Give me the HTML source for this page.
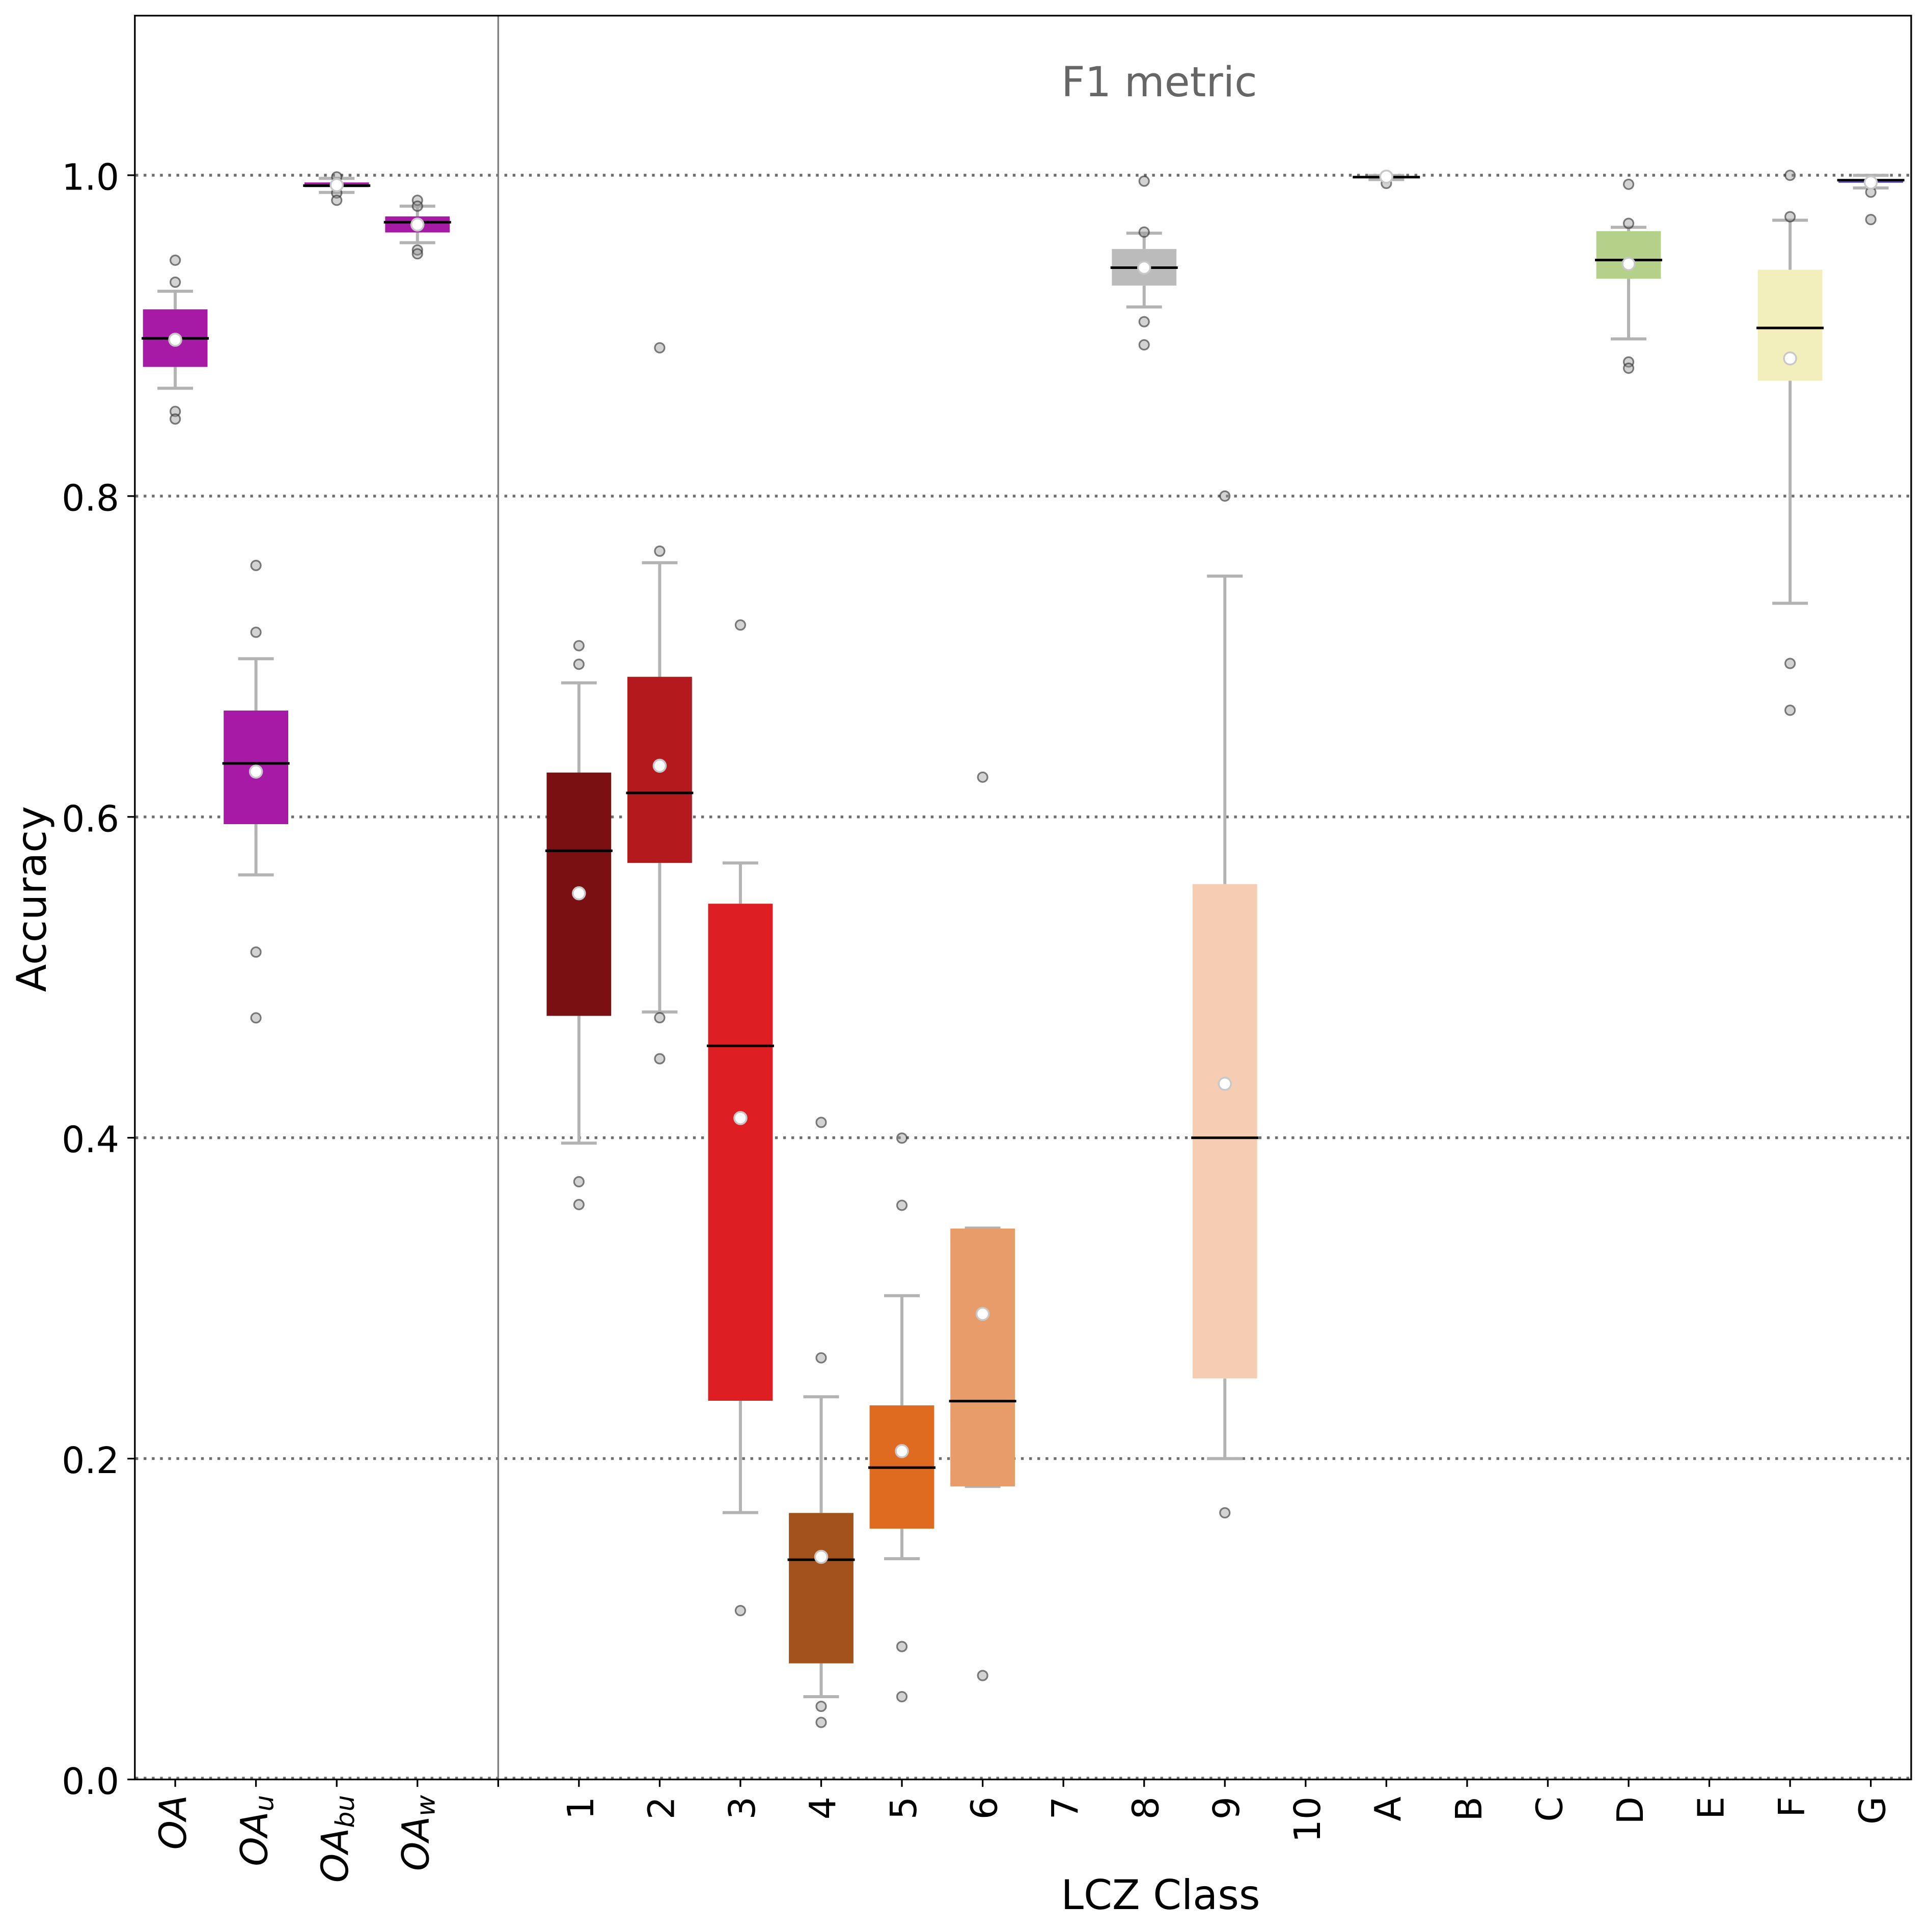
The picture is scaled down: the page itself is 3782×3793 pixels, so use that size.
<!DOCTYPE html>
<html>
<head>
<meta charset="utf-8">
<style>
html,body{margin:0;padding:0;background:#fff;}
svg{display:block;}
text{font-family:"DejaVu Sans","Liberation Sans",sans-serif;}
.w{stroke:#b3b3b3;stroke-width:6;fill:none;}
.md{stroke:#000;stroke-width:5;}
.o{fill:rgba(150,150,150,0.42);stroke:rgba(50,50,50,0.62);stroke-width:3.2;}
.mn{fill:#fff;stroke:#c8c8c8;stroke-width:3.5;}
.g{stroke:#6e6e6e;stroke-width:5.4;stroke-dasharray:5.4 10.7;fill:none;}
.tk{stroke:#000;stroke-width:3.3;}
.yl{font-size:71px;fill:#000;text-anchor:end;}
.xl{font-size:71px;fill:#000;text-anchor:end;}
.xm{font-size:73px;fill:#000;text-anchor:end;font-style:italic;}
</style>
</head>
<body>
<svg xmlns="http://www.w3.org/2000/svg" width="3782" height="3793" viewBox="0 0 3782 3793">
<rect x="0" y="0" width="3782" height="3793" fill="#fff"/>

<!-- grid -->
<line class="g" x1="266" y1="344" x2="3752" y2="344"/>
<line class="g" x1="266" y1="973.9" x2="3752" y2="973.9"/>
<line class="g" x1="266" y1="1603.8" x2="3752" y2="1603.8"/>
<line class="g" x1="266" y1="2233.7" x2="3752" y2="2233.7"/>
<line class="g" x1="266" y1="2863.6" x2="3752" y2="2863.6"/>
<line class="g" x1="266" y1="3491" x2="3752" y2="3491"/>

<!-- separator -->
<line x1="978.3" y1="30.7" x2="978.3" y2="3493.5" stroke="#808080" stroke-width="3.3"/>

<!-- OA -->
<line class="w" x1="344.1" y1="571.8" x2="344.1" y2="607.3"/>
<line class="w" x1="344.1" y1="720.4" x2="344.1" y2="762.3"/>
<line class="w" x1="309.1" y1="571.8" x2="379.1" y2="571.8"/>
<line class="w" x1="309.1" y1="762.3" x2="379.1" y2="762.3"/>
<rect x="280.7" y="607.3" width="126.8" height="113.1" fill="#a61aa6"/>
<line class="md" x1="278.1" y1="664.2" x2="410.1" y2="664.2"/>
<circle class="o" cx="344.1" cy="510.9" r="9.5"/>
<circle class="o" cx="344.1" cy="554" r="9.5"/>
<circle class="o" cx="344.1" cy="807.7" r="9.5"/>
<circle class="o" cx="344.1" cy="822.6" r="9.5"/>
<circle class="mn" cx="344.1" cy="667" r="12"/>

<!-- OAu -->
<line class="w" x1="502.6" y1="1293.2" x2="502.6" y2="1395"/>
<line class="w" x1="502.6" y1="1618" x2="502.6" y2="1717.6"/>
<line class="w" x1="467.6" y1="1293.2" x2="537.6" y2="1293.2"/>
<line class="w" x1="467.6" y1="1717.6" x2="537.6" y2="1717.6"/>
<rect x="439.2" y="1395" width="126.8" height="223" fill="#a61aa6"/>
<line class="md" x1="436.6" y1="1498.8" x2="568.6" y2="1498.8"/>
<circle class="o" cx="502.6" cy="1110.1" r="9.5"/>
<circle class="o" cx="502.6" cy="1241.3" r="9.5"/>
<circle class="o" cx="502.6" cy="1869.2" r="9.5"/>
<circle class="o" cx="502.6" cy="1998.3" r="9.5"/>
<circle class="mn" cx="502.6" cy="1514.9" r="12"/>

<!-- OAbu -->
<line class="w" x1="661.2" y1="350.2" x2="661.2" y2="358.2"/>
<line class="w" x1="661.2" y1="367.4" x2="661.2" y2="377.7"/>
<line class="w" x1="626.2" y1="350.2" x2="696.2" y2="350.2"/>
<line class="w" x1="626.2" y1="377.7" x2="696.2" y2="377.7"/>
<rect x="597.8" y="358.2" width="126.8" height="9.2" fill="#a61aa6"/>
<line class="md" x1="595.2" y1="364.5" x2="727.2" y2="364.5"/>
<circle class="o" cx="661.2" cy="347.3" r="9.5"/>
<circle class="o" cx="661.2" cy="378.9" r="9.5"/>
<circle class="o" cx="661.2" cy="393.2" r="9.5"/>
<circle class="mn" cx="661.2" cy="363.4" r="12"/>

<!-- OAw -->
<line class="w" x1="819.7" y1="404.7" x2="819.7" y2="424.8"/>
<line class="w" x1="819.7" y1="456.4" x2="819.7" y2="476.5"/>
<line class="w" x1="784.7" y1="404.7" x2="854.7" y2="404.7"/>
<line class="w" x1="784.7" y1="476.5" x2="854.7" y2="476.5"/>
<rect x="756.3" y="424.8" width="126.8" height="31.6" fill="#a61aa6"/>
<line class="md" x1="753.7" y1="436.3" x2="885.7" y2="436.3"/>
<circle class="o" cx="819.7" cy="393.2" r="9.5"/>
<circle class="o" cx="819.7" cy="404.7" r="9.5"/>
<circle class="o" cx="819.7" cy="490.8" r="9.5"/>
<circle class="o" cx="819.7" cy="498.3" r="9.5"/>
<circle class="mn" cx="819.7" cy="440.9" r="12"/>

<!-- 1 -->
<line class="w" x1="1136.8" y1="1340.6" x2="1136.8" y2="1516.7"/>
<line class="w" x1="1136.8" y1="1994.4" x2="1136.8" y2="2244.2"/>
<line class="w" x1="1101.8" y1="1340.6" x2="1171.8" y2="1340.6"/>
<line class="w" x1="1101.8" y1="2244.2" x2="1171.8" y2="2244.2"/>
<rect x="1073.4" y="1516.7" width="126.8" height="477.7" fill="#7b1012"/>
<line class="md" x1="1070.8" y1="1670.3" x2="1202.8" y2="1670.3"/>
<circle class="o" cx="1136.8" cy="1267.7" r="9.5"/>
<circle class="o" cx="1136.8" cy="1304.1" r="9.5"/>
<circle class="o" cx="1136.8" cy="2320" r="9.5"/>
<circle class="o" cx="1136.8" cy="2364.9" r="9.5"/>
<circle class="mn" cx="1136.8" cy="1753.8" r="12"/>

<!-- 2 -->
<line class="w" x1="1295.4" y1="1104.7" x2="1295.4" y2="1328.7"/>
<line class="w" x1="1295.4" y1="1694.2" x2="1295.4" y2="1986.7"/>
<line class="w" x1="1260.4" y1="1104.7" x2="1330.4" y2="1104.7"/>
<line class="w" x1="1260.4" y1="1986.7" x2="1330.4" y2="1986.7"/>
<rect x="1232" y="1328.7" width="126.8" height="365.5" fill="#b3191d"/>
<line class="md" x1="1229.4" y1="1556.7" x2="1361.4" y2="1556.7"/>
<circle class="o" cx="1295.4" cy="682.8" r="9.5"/>
<circle class="o" cx="1295.4" cy="1082" r="9.5"/>
<circle class="o" cx="1295.4" cy="1998" r="9.5"/>
<circle class="o" cx="1295.4" cy="2078.6" r="9.5"/>
<circle class="mn" cx="1295.4" cy="1503.4" r="12"/>

<!-- 3 -->
<line class="w" x1="1453.9" y1="1694.2" x2="1453.9" y2="1774.2"/>
<line class="w" x1="1453.9" y1="2750" x2="1453.9" y2="2969.6"/>
<line class="w" x1="1418.9" y1="1694.2" x2="1488.9" y2="1694.2"/>
<line class="w" x1="1418.9" y1="2969.6" x2="1488.9" y2="2969.6"/>
<rect x="1390.5" y="1774.2" width="126.8" height="975.8" fill="#dd1f24"/>
<line class="md" x1="1387.9" y1="2053.3" x2="1519.9" y2="2053.3"/>
<circle class="o" cx="1453.9" cy="1227" r="9.5"/>
<circle class="o" cx="1453.9" cy="3162" r="9.5"/>
<circle class="mn" cx="1453.9" cy="2195" r="12"/>

<!-- 4 -->
<line class="w" x1="1612.5" y1="2742.3" x2="1612.5" y2="2970.3"/>
<line class="w" x1="1612.5" y1="3265.6" x2="1612.5" y2="3331"/>
<line class="w" x1="1577.5" y1="2742.3" x2="1647.5" y2="2742.3"/>
<line class="w" x1="1577.5" y1="3331" x2="1647.5" y2="3331"/>
<rect x="1549.1" y="2970.3" width="126.8" height="295.3" fill="#a4521b"/>
<line class="md" x1="1546.5" y1="3062.1" x2="1678.5" y2="3062.1"/>
<circle class="o" cx="1612.5" cy="2203.5" r="9.5"/>
<circle class="o" cx="1612.5" cy="2665.8" r="9.5"/>
<circle class="o" cx="1612.5" cy="3350" r="9.5"/>
<circle class="o" cx="1612.5" cy="3381.5" r="9.5"/>
<circle class="mn" cx="1612.5" cy="3056.5" r="12"/>

<!-- 5 -->
<line class="w" x1="1771" y1="2543.7" x2="1771" y2="2759.1"/>
<line class="w" x1="1771" y1="3001.1" x2="1771" y2="3060.1"/>
<line class="w" x1="1736" y1="2543.7" x2="1806" y2="2543.7"/>
<line class="w" x1="1736" y1="3060.1" x2="1806" y2="3060.1"/>
<rect x="1707.6" y="2759.1" width="126.8" height="242" fill="#df6b21"/>
<line class="md" x1="1705" y1="2881.2" x2="1837" y2="2881.2"/>
<circle class="o" cx="1771" cy="2234.4" r="9.5"/>
<circle class="o" cx="1771" cy="2366.3" r="9.5"/>
<circle class="o" cx="1771" cy="3232.6" r="9.5"/>
<circle class="o" cx="1771" cy="3331" r="9.5"/>
<circle class="mn" cx="1771" cy="2848.9" r="12"/>

<!-- 6 -->
<line class="w" x1="1894.6" y1="2411" x2="1964.6" y2="2411"/>
<line class="w" x1="1894.6" y1="2918.3" x2="1964.6" y2="2918.3"/>
<rect x="1866.2" y="2411.9" width="126.8" height="506.4" fill="#e89c6a"/>
<line class="md" x1="1863.6" y1="2750.7" x2="1995.6" y2="2750.7"/>
<circle class="o" cx="1929.6" cy="1525.8" r="9.5"/>
<circle class="o" cx="1929.6" cy="3289.5" r="9.5"/>
<circle class="mn" cx="1929.6" cy="2579.5" r="12"/>

<!-- 8 -->
<line class="w" x1="2246.7" y1="457.7" x2="2246.7" y2="488.8"/>
<line class="w" x1="2246.7" y1="560.7" x2="2246.7" y2="602.6"/>
<line class="w" x1="2211.7" y1="457.7" x2="2281.7" y2="457.7"/>
<line class="w" x1="2211.7" y1="602.6" x2="2281.7" y2="602.6"/>
<rect x="2183.3" y="488.8" width="126.8" height="71.9" fill="#bbbbbb"/>
<line class="md" x1="2180.7" y1="525.5" x2="2312.7" y2="525.5"/>
<circle class="o" cx="2246.7" cy="355.6" r="9.5"/>
<circle class="o" cx="2246.7" cy="455.6" r="9.5"/>
<circle class="o" cx="2246.7" cy="631.6" r="9.5"/>
<circle class="o" cx="2246.7" cy="677" r="9.5"/>
<circle class="mn" cx="2246.7" cy="525.5" r="12"/>

<!-- 9 -->
<line class="w" x1="2405.2" y1="1131" x2="2405.2" y2="1735.7"/>
<line class="w" x1="2405.2" y1="2706.2" x2="2405.2" y2="2863.6"/>
<line class="w" x1="2370.2" y1="1131" x2="2440.2" y2="1131"/>
<line class="w" x1="2370.2" y1="2863.6" x2="2440.2" y2="2863.6"/>
<rect x="2341.8" y="1735.7" width="126.8" height="970.5" fill="#f5cdb2"/>
<line class="md" x1="2339.2" y1="2233.7" x2="2471.2" y2="2233.7"/>
<circle class="o" cx="2405.2" cy="973.9" r="9.5"/>
<circle class="o" cx="2405.2" cy="2970" r="9.5"/>
<circle class="mn" cx="2405.2" cy="2127.8" r="12"/>

<!-- A -->
<line class="w" x1="2687.3" y1="344.5" x2="2757.3" y2="344.5"/>
<line class="w" x1="2687.3" y1="352.5" x2="2757.3" y2="352.5"/>
<line class="md" x1="2656.3" y1="347.7" x2="2788.3" y2="347.7"/>
<circle class="o" cx="2722.3" cy="360" r="9.5"/>
<circle class="mn" cx="2722.3" cy="346.7" r="12"/>

<!-- D -->
<line class="w" x1="3198" y1="446.2" x2="3198" y2="453.8"/>
<line class="w" x1="3198" y1="547.3" x2="3198" y2="665.4"/>
<line class="w" x1="3163" y1="446.2" x2="3233" y2="446.2"/>
<line class="w" x1="3163" y1="665.4" x2="3233" y2="665.4"/>
<rect x="3134.6" y="453.8" width="126.8" height="93.5" fill="#b5d088"/>
<line class="md" x1="3132" y1="510.5" x2="3264" y2="510.5"/>
<circle class="o" cx="3198" cy="361.8" r="9.5"/>
<circle class="o" cx="3198" cy="438.5" r="9.5"/>
<circle class="o" cx="3198" cy="710.6" r="9.5"/>
<circle class="o" cx="3198" cy="722.9" r="9.5"/>
<circle class="mn" cx="3198" cy="518.2" r="12"/>

<!-- F -->
<line class="w" x1="3515.1" y1="432.4" x2="3515.1" y2="529.7"/>
<line class="w" x1="3515.1" y1="747.4" x2="3515.1" y2="1184.4"/>
<line class="w" x1="3480.1" y1="432.4" x2="3550.1" y2="432.4"/>
<line class="w" x1="3480.1" y1="1184.4" x2="3550.1" y2="1184.4"/>
<rect x="3451.7" y="529.7" width="126.8" height="217.7" fill="#f2efbc"/>
<line class="md" x1="3449.1" y1="643.9" x2="3581.1" y2="643.9"/>
<circle class="o" cx="3515.1" cy="344.2" r="9.5"/>
<circle class="o" cx="3515.1" cy="425.5" r="9.5"/>
<circle class="o" cx="3515.1" cy="1302.5" r="9.5"/>
<circle class="o" cx="3515.1" cy="1394.4" r="9.5"/>
<circle class="mn" cx="3515.1" cy="703.7" r="12"/>

<!-- G -->
<line class="w" x1="3638.6" y1="344.3" x2="3708.6" y2="344.3"/>
<line class="w" x1="3638.6" y1="369" x2="3708.6" y2="369"/>
<rect x="3610.2" y="352" width="126.8" height="7" fill="#6a5fc6"/>
<line class="md" x1="3607.6" y1="353.8" x2="3739.6" y2="353.8"/>
<circle class="o" cx="3673.6" cy="377.3" r="9.5"/>
<circle class="o" cx="3673.6" cy="431" r="9.5"/>
<circle class="mn" cx="3673.6" cy="358.3" r="12"/>

<!-- axes frame -->
<rect x="264.8" y="30.7" width="3488.1" height="3462.8" fill="none" stroke="#000" stroke-width="3.3"/>

<!-- y ticks -->
<line class="tk" x1="250.2" y1="344" x2="264.8" y2="344"/>
<line class="tk" x1="250.2" y1="973.9" x2="264.8" y2="973.9"/>
<line class="tk" x1="250.2" y1="1603.8" x2="264.8" y2="1603.8"/>
<line class="tk" x1="250.2" y1="2233.7" x2="264.8" y2="2233.7"/>
<line class="tk" x1="250.2" y1="2863.6" x2="264.8" y2="2863.6"/>
<line class="tk" x1="250.2" y1="3493.5" x2="264.8" y2="3493.5"/>
<text class="yl" x="234" y="372.5">1.0</text>
<text class="yl" x="234" y="1002.4">0.8</text>
<text class="yl" x="234" y="1632.3">0.6</text>
<text class="yl" x="234" y="2262.2">0.4</text>
<text class="yl" x="234" y="2892.1">0.2</text>
<text class="yl" x="234" y="3522">0.0</text>

<!-- x ticks -->
<g class="tk">
<line x1="344.1" y1="3493.5" x2="344.1" y2="3508.1"/>
<line x1="502.6" y1="3493.5" x2="502.6" y2="3508.1"/>
<line x1="661.2" y1="3493.5" x2="661.2" y2="3508.1"/>
<line x1="819.7" y1="3493.5" x2="819.7" y2="3508.1"/>
<line x1="978.3" y1="3493.5" x2="978.3" y2="3508.1"/>
<line x1="1136.8" y1="3493.5" x2="1136.8" y2="3508.1"/>
<line x1="1295.4" y1="3493.5" x2="1295.4" y2="3508.1"/>
<line x1="1453.9" y1="3493.5" x2="1453.9" y2="3508.1"/>
<line x1="1612.5" y1="3493.5" x2="1612.5" y2="3508.1"/>
<line x1="1771" y1="3493.5" x2="1771" y2="3508.1"/>
<line x1="1929.6" y1="3493.5" x2="1929.6" y2="3508.1"/>
<line x1="2088.1" y1="3493.5" x2="2088.1" y2="3508.1"/>
<line x1="2246.7" y1="3493.5" x2="2246.7" y2="3508.1"/>
<line x1="2405.2" y1="3493.5" x2="2405.2" y2="3508.1"/>
<line x1="2563.8" y1="3493.5" x2="2563.8" y2="3508.1"/>
<line x1="2722.3" y1="3493.5" x2="2722.3" y2="3508.1"/>
<line x1="2880.9" y1="3493.5" x2="2880.9" y2="3508.1"/>
<line x1="3039.4" y1="3493.5" x2="3039.4" y2="3508.1"/>
<line x1="3198" y1="3493.5" x2="3198" y2="3508.1"/>
<line x1="3356.5" y1="3493.5" x2="3356.5" y2="3508.1"/>
<line x1="3515.1" y1="3493.5" x2="3515.1" y2="3508.1"/>
<line x1="3673.6" y1="3493.5" x2="3673.6" y2="3508.1"/>
</g>

<!-- x tick labels: OA group (math italic) -->
<text class="xm" transform="translate(365,3524) rotate(-90)">OA</text>
<text class="xm" transform="translate(524.6,3524) rotate(-90)">OA<tspan font-size="51" dy="12">u</tspan></text>
<text class="xm" transform="translate(683,3524) rotate(-90)">OA<tspan font-size="51" dy="12">bu</tspan></text>
<text class="xm" transform="translate(841.7,3524) rotate(-90)">OA<tspan font-size="51" dy="12">w</tspan></text>

<!-- x tick labels: LCZ classes -->
<text class="xl" transform="translate(1164.8,3527) rotate(-90)">1</text>
<text class="xl" transform="translate(1323.4,3527) rotate(-90)">2</text>
<text class="xl" transform="translate(1481.9,3527) rotate(-90)">3</text>
<text class="xl" transform="translate(1640.5,3527) rotate(-90)">4</text>
<text class="xl" transform="translate(1799,3527) rotate(-90)">5</text>
<text class="xl" transform="translate(1957.6,3527) rotate(-90)">6</text>
<text class="xl" transform="translate(2116.1,3527) rotate(-90)">7</text>
<text class="xl" transform="translate(2274.7,3527) rotate(-90)">8</text>
<text class="xl" transform="translate(2433.2,3527) rotate(-90)">9</text>
<text class="xl" transform="translate(2591.8,3527) rotate(-90)">10</text>
<text class="xl" transform="translate(2750.3,3527) rotate(-90)">A</text>
<text class="xl" transform="translate(2908.9,3527) rotate(-90)">B</text>
<text class="xl" transform="translate(3067.4,3527) rotate(-90)">C</text>
<text class="xl" transform="translate(3226,3527) rotate(-90)">D</text>
<text class="xl" transform="translate(3384.5,3527) rotate(-90)">E</text>
<text class="xl" transform="translate(3543.1,3527) rotate(-90)">F</text>
<text class="xl" transform="translate(3701.6,3527) rotate(-90)">G</text>

<!-- axis labels & title -->
<text x="2279" y="3748" font-size="80" text-anchor="middle" fill="#000">LCZ Class</text>
<text transform="translate(90,1765) rotate(-90)" font-size="80" text-anchor="middle" fill="#000">Accuracy</text>
<text x="2084" y="189" font-size="81" fill="#666666">F1 metric</text>
</svg>
</body>
</html>
